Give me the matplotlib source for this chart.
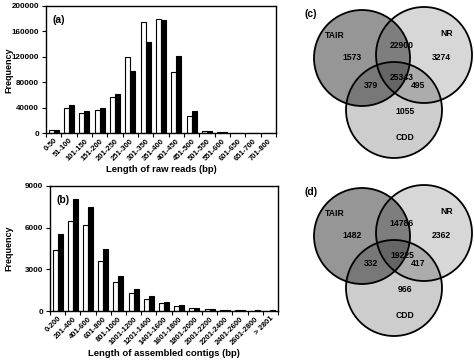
import numpy as np
import matplotlib
matplotlib.use("Agg")
import matplotlib.pyplot as plt
from matplotlib.patches import Circle

plt.rcParams["font.family"] = ["Liberation Sans", "DejaVu Sans"]

# panel (a): raw reads
cats_a = ["0-50", "51-100", "101-150", "151-200", "201-250", "251-300", "301-350",
          "351-400", "401-450", "451-500", "501-550", "551-600", "601-650", "651-700", "701-800"]
white_a = [4000, 40000, 32000, 36000, 57000, 119000, 175000, 179000, 96000, 27000, 2500, 800, 300, 500, 300]
black_a = [5000, 44000, 34000, 40000, 61000, 97000, 144000, 178000, 121000, 34000, 2500, 800, 400, 600, 500]

# panel (b): assembled contigs
cats_b = ["0-200", "201-400", "401-600", "601-800", "801-1000", "1001-1200", "1201-1400",
          "1401-1600", "1601-1800", "1801-2000", "2001-2200", "2201-2400", "2401-2600",
          "2601-2800", "> 2801"]
white_b = [4400, 6450, 6200, 3600, 2100, 1300, 900, 550, 350, 220, 120, 70, 40, 30, 30]
black_b = [5550, 8100, 7500, 4450, 2550, 1600, 1050, 650, 400, 230, 130, 80, 50, 40, 40]

# venn counts: TAIR only, NR only, CDD only, TAIR&NR, TAIR&CDD, NR&CDD, all
venn_c = [1573, 3274, 1055, 22900, 379, 495, 25343]
venn_d = [1482, 2362, 966, 14786, 332, 417, 19225]

W, H = 474, 360
fig = plt.figure(figsize=(W / 100, H / 100), dpi=100)


def px_axes(x0, y0, x1, y1):
    return fig.add_axes([x0 / W, 1 - y1 / H, (x1 - x0) / W, (y1 - y0) / H])


def bar_panel(ax, cats, w, b, ymax, step, label, xlabel):
    x = np.arange(len(cats))
    bw = 0.33
    ax.bar(x - bw / 2, w, bw, color="white", edgecolor="black", linewidth=0.8)
    ax.bar(x + bw / 2, b, bw, color="black", edgecolor="black", linewidth=0.8)
    ax.set_xlim(-0.5, len(cats) - 0.5)
    ax.set_ylim(0, ymax)
    ax.set_yticks(np.arange(0, ymax + 1, step))
    ax.set_xticks(x)
    ax.set_xticklabels(cats, rotation=45, ha="right", rotation_mode="anchor",
                       fontsize=5.5, fontweight="bold")
    ax.set_xticks(np.arange(-0.5, len(cats)), minor=True)
    ax.tick_params(axis="x", which="major", length=0, pad=3)
    ax.tick_params(axis="x", which="minor", length=3, width=0.8)
    ax.tick_params(axis="y", length=3, width=0.8, labelsize=5.8, pad=2)
    for t in ax.get_yticklabels():
        t.set_fontweight("bold")
    for s in ax.spines.values():
        s.set_linewidth(1.0)
    ax.text(0.03, 0.93, label, transform=ax.transAxes, fontsize=7.5, fontweight="bold",
            va="top")
    ax.set_xlabel(xlabel, fontsize=6.8, fontweight="bold", labelpad=2)


ax_a = px_axes(46, 6, 276, 133)
bar_panel(ax_a, cats_a, white_a, black_a, 200000, 40000, "(a)", "Length of raw reads (bp)")
ax_b = px_axes(50, 186, 278, 311)
bar_panel(ax_b, cats_b, white_b, black_b, 9000, 3000, "(b)", "Length of assembled contigs (bp)")

# venn diagrams drawn on an overlay in pixel coordinates
ov = fig.add_axes([0, 0, 1, 1])
ov.set_xlim(0, W)
ov.set_ylim(H, 0)
ov.axis("off")
ov.patch.set_alpha(0)

ykw = dict(fontsize=6.5, fontweight="bold", rotation=90, ha="center", va="center")
ov.text(9, 70, "Frequency", **ykw)
ov.text(9, 248, "Frequency", **ykw)


def venn(ax, oy, counts, tag):
    r = 48
    circles = [((362, oy + 58), 0.41), ((424, oy + 55), 0.157), ((394, oy + 110), 0.196)]
    for (cx, cy), a in circles:
        ax.add_patch(Circle((cx, cy), r, facecolor=(0, 0, 0, a), edgecolor="none"))
    for (cx, cy), a in circles:
        ax.add_patch(Circle((cx, cy), r, facecolor="none", edgecolor="black", linewidth=1.3))
    kw = dict(fontsize=6.2, fontweight="bold", ha="center", va="center")
    ax.text(305, oy + 14, tag, fontsize=7.5, fontweight="bold", ha="left", va="center")
    ax.text(335, oy + 35, "TAIR", **kw)
    ax.text(447, oy + 34, "NR", **kw)
    ax.text(405, oy + 138, "CDD", **kw)
    pos = [(352, 58), (441, 58), (405, 112), (402, 45), (371, 86), (418, 86), (402, 78)]
    for (px, py), n in zip(pos, counts):
        ax.text(px, oy + py, str(n), **kw)


venn(ov, 0, venn_c, "(c)")
venn(ov, 178, venn_d, "(d)")

fig.savefig("out.png", dpi=100)
